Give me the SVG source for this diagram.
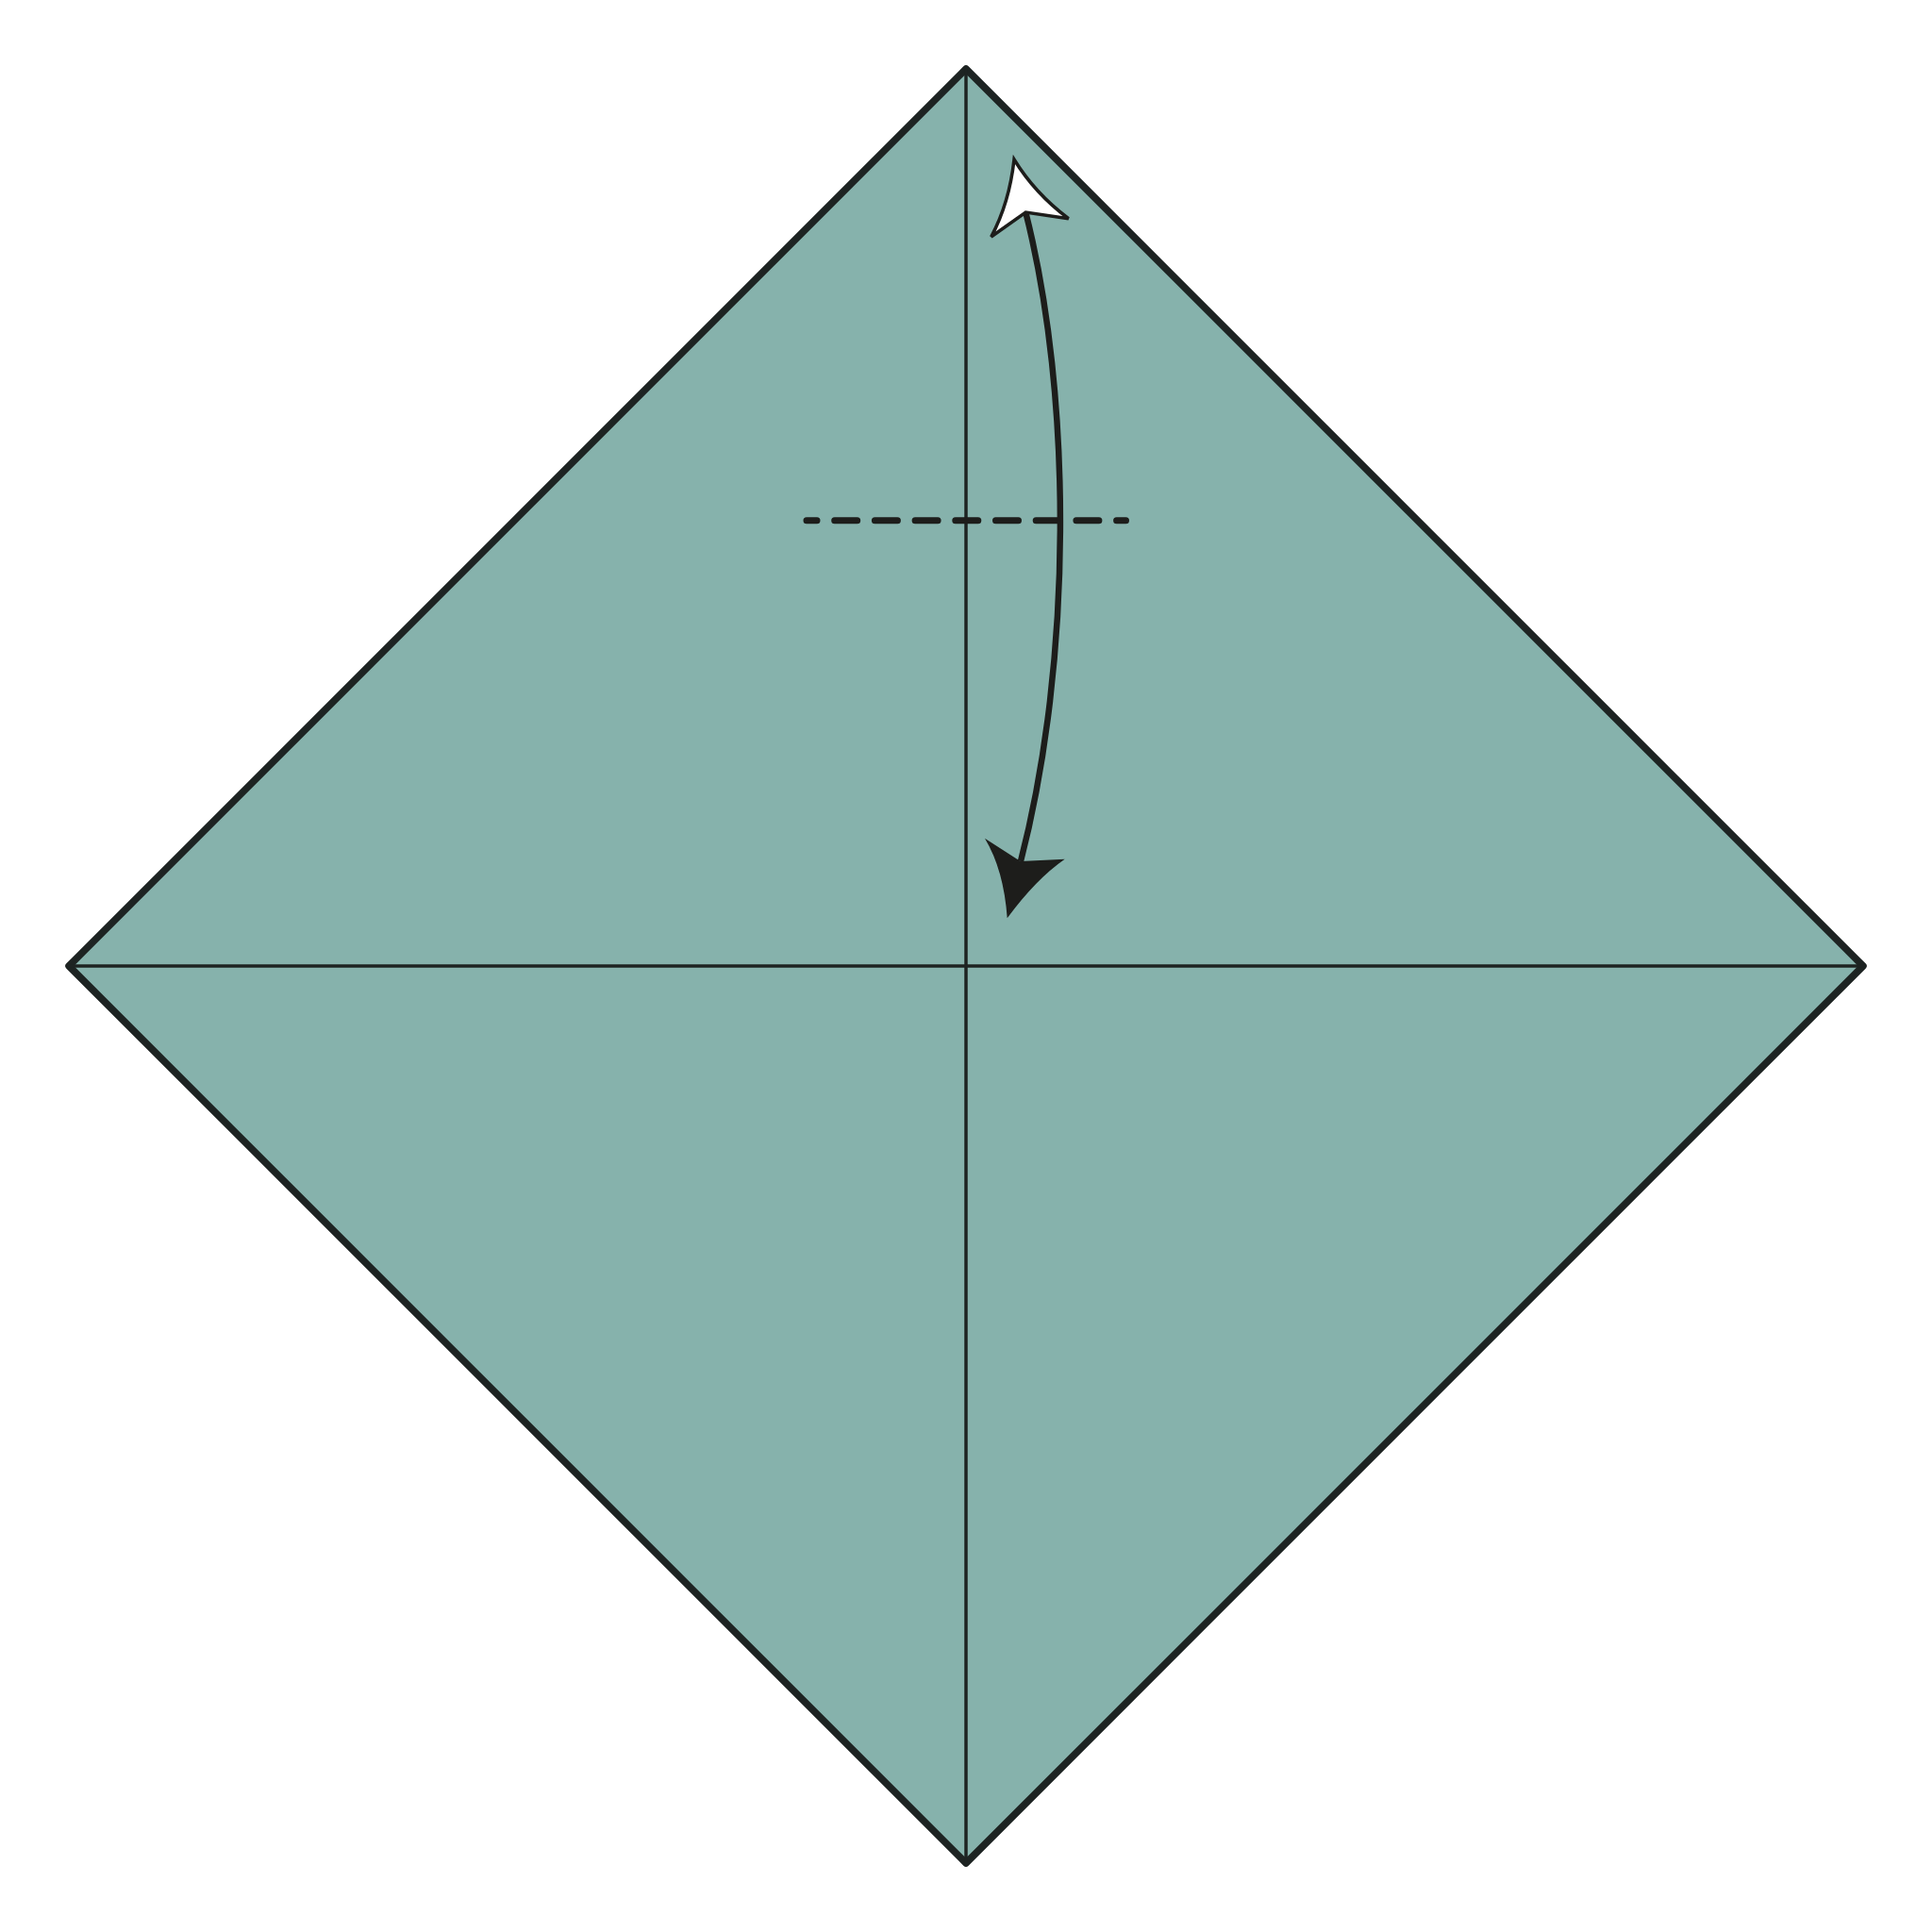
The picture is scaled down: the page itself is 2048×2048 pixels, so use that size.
<svg xmlns="http://www.w3.org/2000/svg" width="2048" height="2048" viewBox="0 0 2048 2048">
<style>
.paper{fill:#86b2ac;stroke:#1d2322;stroke-width:7.5;stroke-linejoin:round}
.crease{stroke:#1d2322;stroke-width:3.5;fill:none}
.valley{stroke:#1d1d1b;stroke-width:7;stroke-linecap:round;fill:none;stroke-dasharray:24 18.7;stroke-dashoffset:13}
.shaft{stroke:#1d1d1b;stroke-width:6.5;fill:none}
</style>
<rect width="2048" height="2048" fill="#ffffff"/>
<g id="paper">
<polygon class="paper" points="1024,73 1975,1024 1024,1975 73,1024"/>
</g>
<g id="creases">
<line class="crease" x1="1024" y1="73" x2="1024" y2="1975"/>
<line class="crease" x1="73" y1="1024" x2="1975" y2="1024"/>
</g>
<g id="valley-fold">
<line class="valley" x1="855" y1="551.7" x2="1193.5" y2="551.7"/>
</g>
<g id="connectors">
<path class="shaft" d="M1087,224 C1137,420 1137,700 1082,913"/>
<path id="open-head" d="M1075,169 Q1097,205 1132.7,231.7 L1087.3,225 L1050.7,251 Q1070,215 1075,169 Z" fill="#ffffff" stroke="#1d1d1b" stroke-width="3.5" stroke-linejoin="miter"/>
<path id="solid-head" d="M1044,888.7 L1081.7,913 L1128.7,910.7 Q1098,932 1067.7,973.3 Q1064,922 1044,888.7 Z" fill="#1d1d1b"/>
</g>
</svg>
